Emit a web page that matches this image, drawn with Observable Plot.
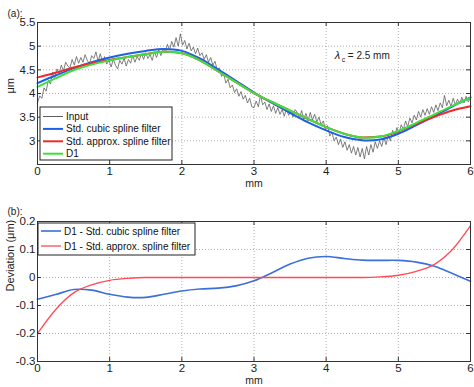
<!DOCTYPE html>
<html><head><meta charset="utf-8">
<script src="https://cdn.jsdelivr.net/npm/d3@7"></script>
<script src="https://cdn.jsdelivr.net/npm/@observablehq/plot@0.6"></script>
<style>
body{margin:0;background:#fff;}
#chart{width:474px;height:387px;}
svg{display:block;}
</style></head><body><div id="chart"></div>
<script>
// ---- data ----
const xs = [0,0.25,0.5,0.75,1,1.25,1.5,1.75,2,2.25,2.5,2.75,3,3.25,3.5,3.75,4,4.25,4.5,4.75,5,5.25,5.5,5.75,6];
const d1 = [4.14,4.32,4.49,4.61,4.70,4.77,4.83,4.88,4.85,4.70,4.47,4.24,4.01,3.82,3.64,3.46,3.29,3.15,3.07,3.09,3.21,3.38,3.56,3.74,3.91];
const cubic = [4.22,4.38,4.53,4.66,4.76,4.84,4.90,4.94,4.90,4.74,4.51,4.27,4.02,3.80,3.59,3.39,3.22,3.08,3.01,3.03,3.15,3.33,3.52,3.73,3.92];
const approx = [4.34,4.44,4.55,4.64,4.71,4.77,4.83,4.88,4.85,4.70,4.47,4.24,4.01,3.82,3.64,3.46,3.29,3.15,3.07,3.09,3.20,3.36,3.51,3.64,3.73];
const devCubic = [-0.078,-0.061,-0.043,-0.045,-0.060,-0.070,-0.071,-0.060,-0.048,-0.041,-0.038,-0.030,-0.012,0.017,0.048,0.069,0.075,0.068,0.062,0.061,0.061,0.055,0.040,0.014,-0.013];
const devApprox = [-0.200,-0.115,-0.055,-0.026,-0.010,-0.003,0,0,0,0,0,0,0,0,0,0,0,0,0,0.002,0.008,0.022,0.047,0.100,0.185];
const inputStep = 0.03;
const inputValues = [
3.80,3.95,3.90,4.12,4.05,4.28,4.20,4.45,4.34,4.52,
4.42,4.60,4.48,4.66,4.58,4.54,4.72,4.60,4.78,4.64,
4.76,4.66,4.82,4.70,4.62,4.80,4.74,4.88,4.68,4.84,
4.66,4.78,4.62,4.70,4.56,4.72,4.60,4.52,4.70,4.62,
4.74,4.58,4.72,4.64,4.80,4.66,4.78,4.70,4.84,4.72,
4.86,4.74,4.82,4.70,4.88,4.76,4.92,4.80,4.96,4.86,
5.04,4.92,5.10,4.98,5.18,5.00,5.26,5.02,5.12,4.94,
5.06,4.90,4.98,4.84,4.96,4.80,4.86,4.72,4.82,4.66,
4.76,4.60,4.68,4.50,4.54,4.36,4.42,4.22,4.30,4.12,
4.18,4.02,4.10,3.94,4.04,3.88,3.96,3.80,3.90,3.72,
3.70,3.84,3.72,3.96,3.76,3.82,3.66,3.78,3.62,3.74,
3.58,3.70,3.56,3.66,3.52,3.68,3.54,3.64,3.50,3.66,
3.60,3.48,3.64,3.46,3.58,3.42,3.60,3.44,3.56,3.40,
3.50,3.34,3.42,3.24,3.32,3.10,3.18,3.00,3.08,2.92,
3.04,2.86,2.98,2.80,2.92,2.74,2.88,2.70,2.86,2.66,
2.84,2.62,2.88,2.70,2.92,2.76,2.98,2.84,3.00,2.88,
3.06,2.92,3.12,3.00,3.22,3.10,3.28,3.16,3.34,3.24,
3.42,3.30,3.48,3.38,3.54,3.44,3.62,3.50,3.66,3.54,
3.68,3.56,3.72,3.60,3.76,3.64,3.80,3.70,3.96,3.74,
3.86,3.72,3.90,3.76,3.88,3.78,3.92,3.80,3.94,3.82,
3.92];
const xTicks = [0,1,2,3,4,5,6];
const yTicksA = [3,3.5,4,4.5,5,5.5];
const yTicksB = [-0.3,-0.2,-0.1,0,0.1,0.2];
const legendA = ["Input","Std. cubic spline filter","Std. approx. spline filter","D1"];
const legendB = ["D1 - Std. cubic spline filter","D1 - Std. approx. spline filter"];
const colorsA = ["#5e5e5e","#1f5fe6","#f02a2a","#3ee03e"];
const colorsB = ["#3a6fdc","#ff4a55"];
const annotation = {x: 4.12, y: 4.80, symbol: "λ", sub: "c", rest: "= 2.5 mm"};

// ---- helpers ----
const FONT = "'Liberation Sans', Arial, Helvetica, sans-serif";
const W = 474, mL = 37, mR = 4;
const fw = W - mL - mR;

function panel({height, mT, mB, yDomain, yTicks, yGrid, yLabel, tag, tagDy, lines, legend, legendBox, extra = []}) {
  const fh = height - mT - mB;
  const grid = {stroke: "#9a9a9a", strokeDasharray: "1,2", strokeWidth: 0.8};
  const plot = Plot.plot({
    width: W, height, marginLeft: mL, marginRight: mR, marginTop: mT, marginBottom: mB,
    style: {fontFamily: FONT, fontSize: "11px", background: "#fff", color: "#222"},
    x: {domain: [0, 6], label: null},
    y: {domain: yDomain, label: null},
    marks: [
      Plot.ruleX(xTicks.slice(1, -1), grid),
      Plot.ruleY(yGrid, grid),
      ...lines,
      ...extra,
      Plot.tickX(xTicks, {x: d => d, insetTop: fh - 4, stroke: "#333"}),
      Plot.tickX(xTicks, {x: d => d, insetBottom: fh - 4, stroke: "#333"}),
      Plot.tickY(yTicks, {y: d => d, insetRight: fw - 4, stroke: "#333"}),
      Plot.tickY(yTicks, {y: d => d, insetLeft: fw - 4, stroke: "#333"}),
      Plot.frame({stroke: "#333", strokeWidth: 1}),
      Plot.axisX(xTicks, {tickSize: 0, tickPadding: 2, label: null, fontSize: 11.5, tickFormat: d => String(d)}),
      Plot.axisY(yTicks, {tickSize: 0, tickPadding: 2, label: null, fontSize: 11.5, tickFormat: d => String(d)}),
      Plot.text(["mm"], {frameAnchor: "bottom", dy: 22, fontSize: 10.5, text: d => d}),
      Plot.text([yLabel], {frameAnchor: "left", rotate: -90, dx: -27, fontSize: 11, text: d => d}),
      Plot.text([tag], {frameAnchor: "top-left", dx: -30, dy: tagDy, textAnchor: "start", fontSize: 10, text: d => d})
    ]
  });
  const svg = d3.select(plot);
  const g = svg.append("g").attr("font-family", FONT).attr("font-size", 10).attr("text-anchor", "start");
  g.append("rect").attr("x", legendBox.x).attr("y", legendBox.y).attr("width", legendBox.w).attr("height", legendBox.h)
    .attr("fill", "#fff").attr("stroke", "#222").attr("stroke-width", 1);
  legend.forEach((lab, i) => {
    const y = legendBox.y + legendBox.first + i * legendBox.gap;
    g.append("line").attr("x1", legendBox.x + 3).attr("x2", legendBox.x + 23).attr("y1", y).attr("y2", y)
      .attr("stroke", legendBox.colors[i]).attr("stroke-width", legendBox.widths[i]);
    g.append("text").attr("x", legendBox.x + 26).attr("y", y).attr("dy", "0.35em")
      .attr("text-anchor", "start").attr("fill", "#111").text(lab);
  });
  return plot;
}

const inputData = inputValues.map((v, i) => ({x: i * inputStep, y: v}));
const rows = xs.map((x, i) => ({x, d1: d1[i], cubic: cubic[i], approx: approx[i], dc: devCubic[i], da: devApprox[i]}));

const panelA = panel({
  height: 195, mT: 22, mB: 31, yDomain: [2.5, 5.5], yTicks: yTicksA, yGrid: yTicksA.slice(0, -1),
  yLabel: "μm", tag: "(a):", tagDy: -13,
  lines: [
    Plot.line(inputData, {x: "x", y: "y", stroke: colorsA[0], strokeWidth: 0.8}),
    Plot.line(rows, {x: "x", y: "cubic", stroke: colorsA[1], strokeWidth: 2, curve: "catmull-rom"}),
    Plot.line(rows, {x: "x", y: "approx", stroke: colorsA[2], strokeWidth: 2, curve: "monotone-x"}),
    Plot.line(rows, {x: "x", y: "d1", stroke: colorsA[3], strokeWidth: 2, curve: "catmull-rom"})
  ],
  extra: [
    Plot.text([annotation], {x: "x", y: "y", text: "symbol", fontSize: 11, fontStyle: "italic", textAnchor: "start"}),
    Plot.text([annotation], {x: "x", y: "y", text: "sub", fontSize: 7, dx: 7, dy: 4, textAnchor: "start"}),
    Plot.text([annotation], {x: "x", y: "y", text: "rest", fontSize: 10, dx: 13, textAnchor: "start"})
  ],
  legend: legendA,
  legendBox: {x: 40, y: 107, w: 132, h: 53, first: 9.5, gap: 12.4, colors: colorsA, widths: [1, 2, 2, 2]}
});

const panelB = panel({
  height: 192, mT: 26, mB: 26, yDomain: [-0.3, 0.2], yTicks: yTicksB, yGrid: yTicksB.slice(1, -1),
  yLabel: "Deviation (μm)", tag: "(b):", tagDy: -14,
  lines: [
    Plot.line(rows, {x: "x", y: "dc", stroke: colorsB[0], strokeWidth: 1.6, curve: "catmull-rom"}),
    Plot.line(rows, {x: "x", y: "da", stroke: colorsB[1], strokeWidth: 1.3, curve: "monotone-x"})
  ],
  legend: legendB,
  legendBox: {x: 38, y: 28, w: 157, h: 32, first: 8, gap: 15, colors: colorsB, widths: [1.6, 1.3]}
});

document.getElementById("chart").append(panelA, panelB);
</script>
</body></html>
